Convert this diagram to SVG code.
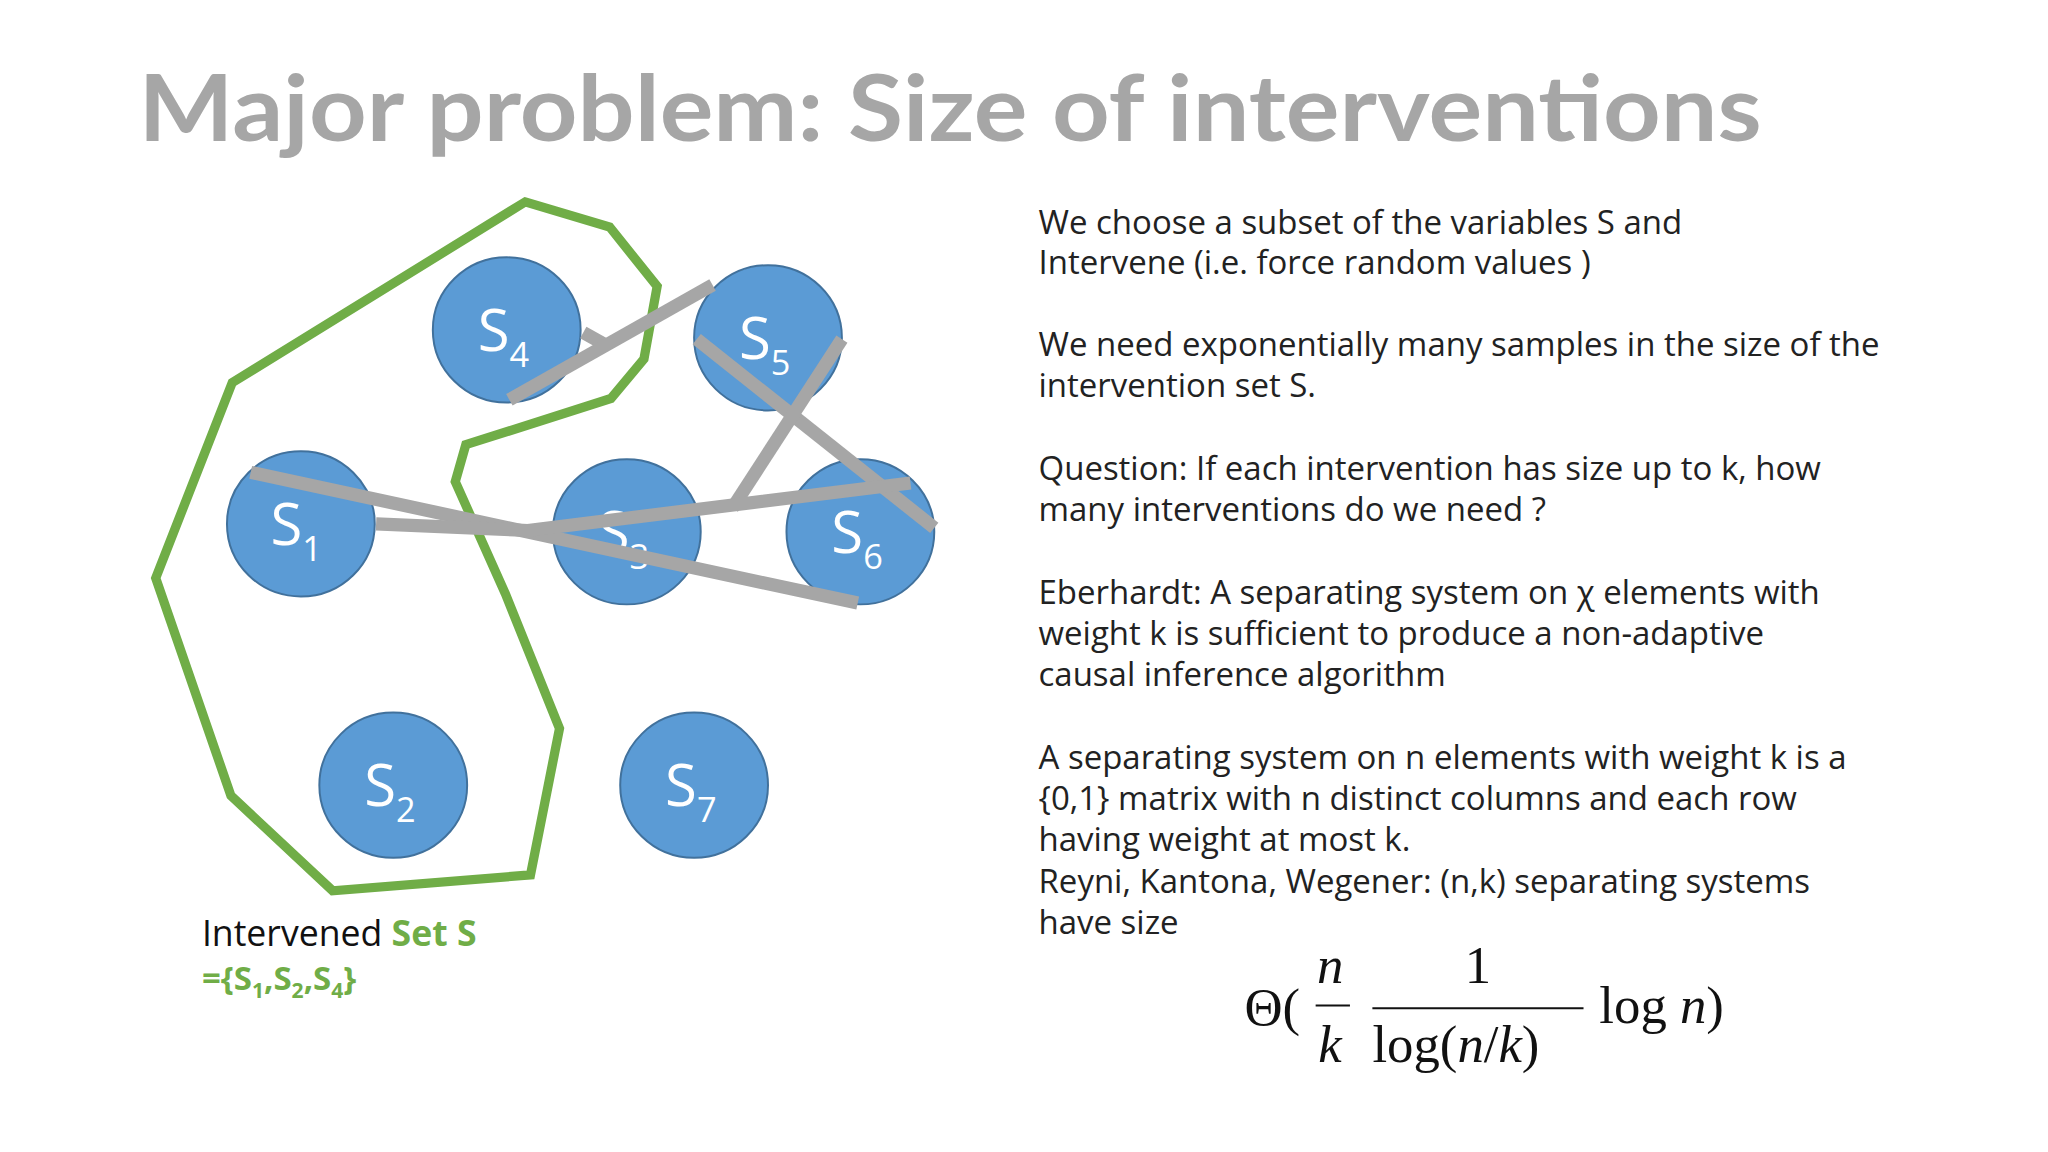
<svg xmlns="http://www.w3.org/2000/svg" width="2048" height="1152" viewBox="0 0 2048 1152">
<style>
.node ellipse{fill:#5b9bd5;stroke:#41719c;stroke-width:1.5}
.nl{font-family:"Open Sans",sans-serif;fill:#fff;font-size:44px}
.sub{font-size:26px}
.edge{stroke:#a6a6a6;stroke-width:10;fill:none}
.body{font-family:"Open Sans","Liberation Sans",sans-serif;font-size:25px;fill:#222}
.m{font-family:"Liberation Serif",serif;font-size:40px;fill:#111}
.mi{font-style:italic}
</style>
<rect width="2048" height="1152" fill="#fff"/>
<g transform="scale(1.3196)">
<text x="105" y="107" font-family="Lato, 'Open Sans', sans-serif" font-weight="bold" font-size="70" fill="#a6a6a6" textLength="1230" lengthAdjust="spacingAndGlyphs">Major problem: Size of interventions</text>
<g id="set"><polygon points="398,153 462,172 498,217 488,272 463,302 353,337 345,365 383,450 424,552 402,663 252,675 175,603 118,438 176,290" fill="none" stroke="#70ad47" stroke-width="7" stroke-linejoin="miter"/></g>
<g id="S4" class="node"><ellipse cx="384" cy="250" rx="56" ry="55"/><text class="nl" x="362" y="266">S<tspan class="sub" dy="12">4</tspan></text></g>
<g id="S5" class="node"><ellipse cx="582" cy="256" rx="56" ry="55"/><text class="nl" x="560" y="272">S<tspan class="sub" dy="12">5</tspan></text></g>
<g id="S1" class="node"><ellipse cx="228" cy="397" rx="56" ry="55"/><text class="nl" x="205" y="413">S<tspan class="sub" dy="12">1</tspan></text></g>
<g id="S3" class="node"><ellipse cx="475" cy="403" rx="56" ry="55"/><text class="nl" x="453" y="419">S<tspan class="sub" dy="12">3</tspan></text></g>
<g id="S6" class="node"><ellipse cx="652" cy="403" rx="56" ry="55"/><text class="nl" x="630" y="419">S<tspan class="sub" dy="12">6</tspan></text></g>
<g id="S2" class="node"><ellipse cx="298" cy="595" rx="56" ry="55"/><text class="nl" x="276" y="611">S<tspan class="sub" dy="12">2</tspan></text></g>
<g id="S7" class="node"><ellipse cx="526" cy="595" rx="56" ry="55"/><text class="nl" x="504" y="611">S<tspan class="sub" dy="12">7</tspan></text></g>
<g id="connectors">
<line class="edge" x1="442" y1="252" x2="460" y2="262"/>
<line class="edge" x1="386" y1="303" x2="540" y2="216"/>
<line class="edge" x1="528" y1="257" x2="708" y2="400"/>
<line class="edge" x1="638" y1="257" x2="555" y2="385"/>
<line class="edge" x1="190" y1="358" x2="650" y2="457"/>
<polyline class="edge" points="285,397 400,402 690,366"/>
</g>
<g class="body">
<text x="787" y="177">We choose a subset of the variables S and</text>
<text x="787" y="208">Intervene (i.e. force random values )</text>
<text x="787" y="270">We need exponentially many samples in the size of the</text>
<text x="787" y="301">intervention set S.</text>
<text x="787" y="364">Question: If each intervention has size up to k, how</text>
<text x="787" y="395">many interventions do we need ?</text>
<text x="787" y="458">Eberhardt: A separating system on χ elements with</text>
<text x="787" y="489">weight k is sufficient to produce a non-adaptive</text>
<text x="787" y="520">causal inference algorithm</text>
<text x="787" y="583">A separating system on n elements with weight k is a</text>
<text x="787" y="614">{0,1} matrix with n distinct columns and each row</text>
<text x="787" y="645">having weight at most k.</text>
<text x="787" y="677">Reyni, Kantona, Wegener: (n,k) separating  systems</text>
<text x="787" y="708">have size</text>
</g>
<g id="formula">
<text class="m" x="943" y="777">Θ(</text>
<text class="m mi" x="998" y="745">n</text>
<line x1="997" y1="762" x2="1023" y2="762" stroke="#111" stroke-width="1.5"/>
<text class="m mi" x="999" y="805">k</text>
<text class="m" x="1110" y="745">1</text>
<line x1="1040" y1="764" x2="1200" y2="764" stroke="#111" stroke-width="1.5"/>
<text class="m" x="1040" y="805">log(<tspan class="mi">n</tspan>/<tspan class="mi">k</tspan>)</text>
<text class="m" x="1212" y="775">log <tspan class="mi">n</tspan>)</text>
</g>
<text x="153" y="717" font-family="'Open Sans',sans-serif" font-size="27" fill="#111">Intervened <tspan fill="#70ad47" font-weight="bold">Set S</tspan></text>
<text x="153" y="750" font-family="'Open Sans',sans-serif" font-size="25" fill="#70ad47" font-weight="bold">={S<tspan font-size="16" dy="6">1</tspan><tspan dy="-6">,S</tspan><tspan font-size="16" dy="6">2</tspan><tspan dy="-6">,S</tspan><tspan font-size="16" dy="6">4</tspan><tspan dy="-6">}</tspan></text>
</g>
</svg>
